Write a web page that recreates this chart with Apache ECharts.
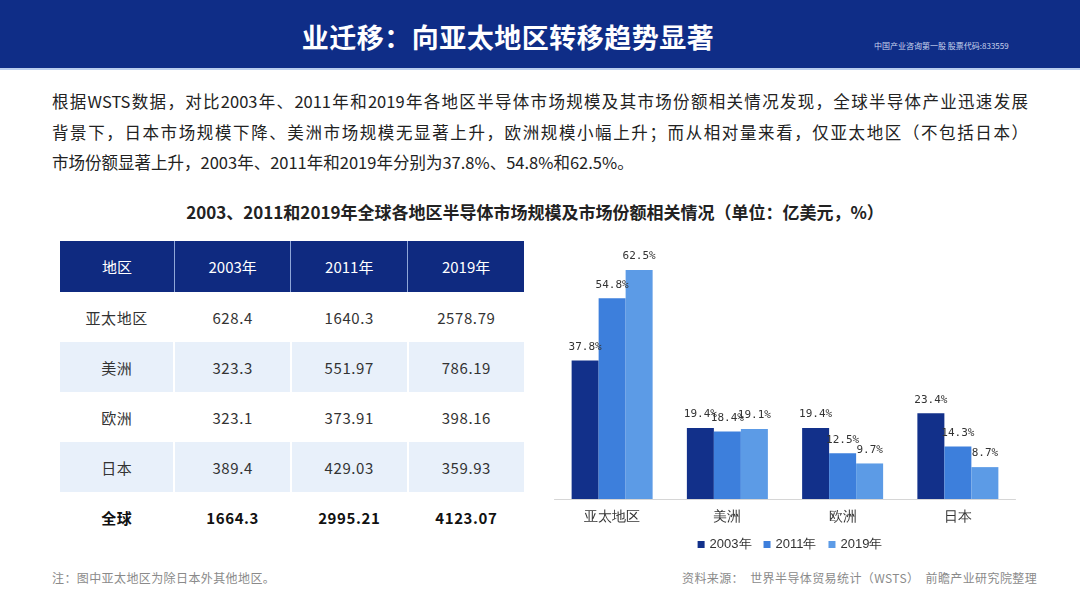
<!DOCTYPE html>
<html>
<head>
<meta charset="utf-8">
<script src="https://cdn.jsdelivr.net/npm/echarts@6/dist/echarts.min.js"></script>
<style>
  body { margin: 0; width: 1080px; height: 607px; overflow: hidden; background: #fff;
         font-family: "Noto Sans CJK SC", "Noto Sans", sans-serif; color: #222; position: relative; }
  .head { position: absolute; left: 0; top: 0; width: 1080px; height: 68px; background: #0f2d87;
          border-bottom: 2px solid #b9cdee; }
  .head h1 { margin: 0; position: absolute; left: 0; width: 1016px; top: 17px; text-align: center;
             font-size: 27px; line-height: 40px; color: #fff; font-weight: bold; letter-spacing: 0.5px; }
  .head .tag { position: absolute; left: 874px; top: 40px; font-size: 8px; color: #c9d4ee; }
  .para { position: absolute; left: 52px; top: 86px; width: 976px; font-size: 16.5px; line-height: 30.5px; }
  .para div.j { text-align: justify; text-align-last: justify; }
  .ctitle { position: absolute; left: 0; width: 1070px; top: 200px; text-align: center;
            font-size: 17px; font-weight: bold; line-height: 24px; }
  table { position: absolute; left: 60px; top: 241px; width: 464px; border-collapse: collapse; font-size: 15px; }
  th { background: #0f2a80; color: #fff; font-weight: normal; height: 49px; width: 116px;
       border-right: 1px solid #8fa6d8; }
  th:last-child, td:last-child { border-right: none; }
  td { height: 50px; text-align: center; color: #333; border-right: 2px solid #fff; padding: 0; letter-spacing: 0.6px; }
  tr.alt td { background: #e8f0fa; }
  tr.sum td { font-weight: bold; color: #111; }
  #chart { position: absolute; left: 540px; top: 230px; width: 500px; height: 330px; }
  .foot { position: absolute; top: 569px; font-size: 12px; color: #8a8a8a; line-height: 18px; letter-spacing: 0.4px; }
</style>
</head>
<body>
<div class="head">
  <h1>业迁移：向亚太地区转移趋势显著</h1>
  <div class="tag">中国产业咨询第一股 股票代码:833559</div>
</div>
<div class="para">
  <div class="j">根据WSTS数据，对比2003年、2011年和2019年各地区半导体市场规模及其市场份额相关情况发现，全球半导体产业迅速发展</div>
  <div class="j">背景下，日本市场规模下降、美洲市场规模无显著上升，欧洲规模小幅上升；而从相对量来看，仅亚太地区（不包括日本）</div>
  <div>市场份额显著上升，2003年、2011年和2019年分别为37.8%、54.8%和62.5%。</div>
</div>
<div class="ctitle">2003、2011和2019年全球各地区半导体市场规模及市场份额相关情况（单位：亿美元，%）</div>
<table id="tbl"></table>
<div id="chart"></div>
<div class="foot" style="left:52px">注：图中亚太地区为除日本外其他地区。</div>
<div class="foot" style="left:682px">资料来源：&nbsp;&nbsp;世界半导体贸易统计（WSTS）&nbsp;&nbsp;前瞻产业研究院整理</div>
<script>
// table data (亿美元)
const tableRegions = ['亚太地区', '美洲', '欧洲', '日本', '全球']
const years = ['2003年', '2011年', '2019年']
const size2003 = ['628.4', '323.3', '323.1', '389.4', '1664.3']
const size2011 = ['1640.3', '551.97', '373.91', '429.03', '2995.21']
const size2019 = ['2578.79', '786.19', '398.16', '359.93', '4123.07']

// chart data (市场份额 %)
const regions = ['亚太地区', '美洲', '欧洲', '日本']
const share2003 = [37.8, 19.4, 19.4, 23.4]
const share2011 = [54.8, 18.4, 12.5, 14.3]
const share2019 = [62.5, 19.1, 9.7, 8.7]

const tbl = document.getElementById('tbl')
let html = '<tr><th>地区</th>' + years.map(y => `<th>${y}</th>`).join('') + '</tr>'
tableRegions.forEach((r, i) => {
  const cls = i === 4 ? 'sum' : (i % 2 === 1 ? 'alt' : '')
  html += `<tr class="${cls}"><td>${r}</td><td>${size2003[i]}</td><td>${size2011[i]}</td><td>${size2019[i]}</td></tr>`
})
tbl.innerHTML = html

const colors = ['#12308a', '#3d7fdc', '#5c9be6']
const bar = (name, data, color) => ({
  name, type: 'bar', data, barWidth: 27, barGap: '0%',
  itemStyle: { color },
  label: { show: true, position: 'top', distance: 8, fontSize: 11, color: '#333',
           fontFamily: 'DejaVu Sans Mono, monospace', formatter: p => p.value.toFixed(1) + '%' },
})

const chart = echarts.init(document.getElementById('chart'), null, { renderer: 'canvas' })
chart.setOption({
  animation: false,
  grid: { left: 14.5, width: 461, top: 12.5, height: 256.5 },
  legend: {
    bottom: 4, left: 'center', itemWidth: 7, itemHeight: 7, itemGap: 12, icon: 'rect',
    textStyle: { fontSize: 13, color: '#333' },
  },
  xAxis: {
    type: 'category', data: regions,
    axisLine: { lineStyle: { color: '#d6d6d6' } }, axisTick: { show: false },
    axisLabel: { fontSize: 14, color: '#333', margin: 11 },
  },
  yAxis: { type: 'value', min: 0, max: 70, show: false },
  series: [
    bar('2003年', share2003, colors[0]),
    bar('2011年', share2011, colors[1]),
    bar('2019年', share2019, colors[2]),
  ],
})
</script>
</body>
</html>
